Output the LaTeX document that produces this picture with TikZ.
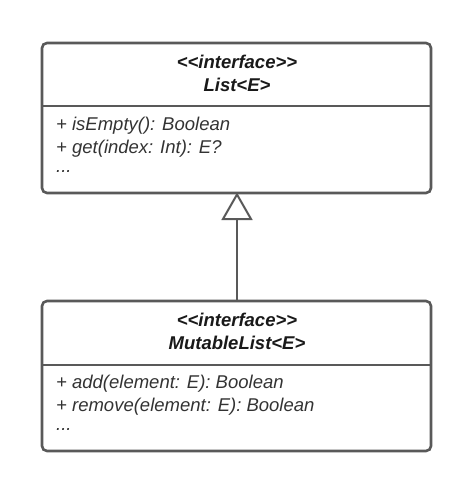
\documentclass[tikz,border=0pt]{standalone}
\usepackage{fontspec}
\setmainfont{Liberation Sans}[Ligatures=TeXOff]
\begin{document}
\begin{tikzpicture}[x=1pt,y=-1pt,
  boxline/.style={draw=black!65, line width=2.6pt, rounded corners=5pt},
  divline/.style={draw=black!65, line width=2.6pt},
  head/.style={font=\fontsize{18.5}{23}\selectfont\bfseries\itshape, text=black!90, align=center, inner sep=0pt},
  member/.style={font=\fontsize{18.5}{23}\selectfont\itshape, text=black!80, align=left, anchor=west, inner sep=0pt},
  conn/.style={draw=black!65, line width=2pt}]
\useasboundingbox (0,0) rectangle (474,494);
% top box
\draw[boxline] (42,43) rectangle (431,193);
\draw[divline] (42,106) -- (431,106);
\node[head] (th1) at (237,62) {<\kern0pt<interface>\kern0pt>};
\node[head] (th2) at (237,85) {List<E>};
\node[member] (tm1) at (56,126) {+ isEmpty(): Boolean};
\node[member] (tm2) at (56,149) {+ get(index: Int): E?};
\node[member] (tm3) at (56,172) {...};
\coordinate (topb) at (237,194.5);
% bottom box
\draw[boxline] (42,301) rectangle (431,451);
\draw[divline] (42,365) -- (431,365);
\node[head] (bh1) at (237,320) {<\kern0pt<interface>\kern0pt>};
\node[head] (bh2) at (237,343) {MutableList<E>};
\node[member] (bm1) at (56,384) {+ add(element: E): Boolean};
\node[member] (bm2) at (56,407) {+ remove(element: E): Boolean};
\node[member] (bm3) at (56,430) {...};
\coordinate (botb) at (237,299.5);
% generalization
\coordinate (tb1) at (223,219);
\coordinate (tb2) at (251,219);
\coordinate (tbm) at (237,219);
\draw[conn] (botb) -- (tbm);
\draw[conn, line join=miter, fill=white] (topb) -- (tb2) -- (tb1) -- cycle;
\end{tikzpicture}
\end{document}
